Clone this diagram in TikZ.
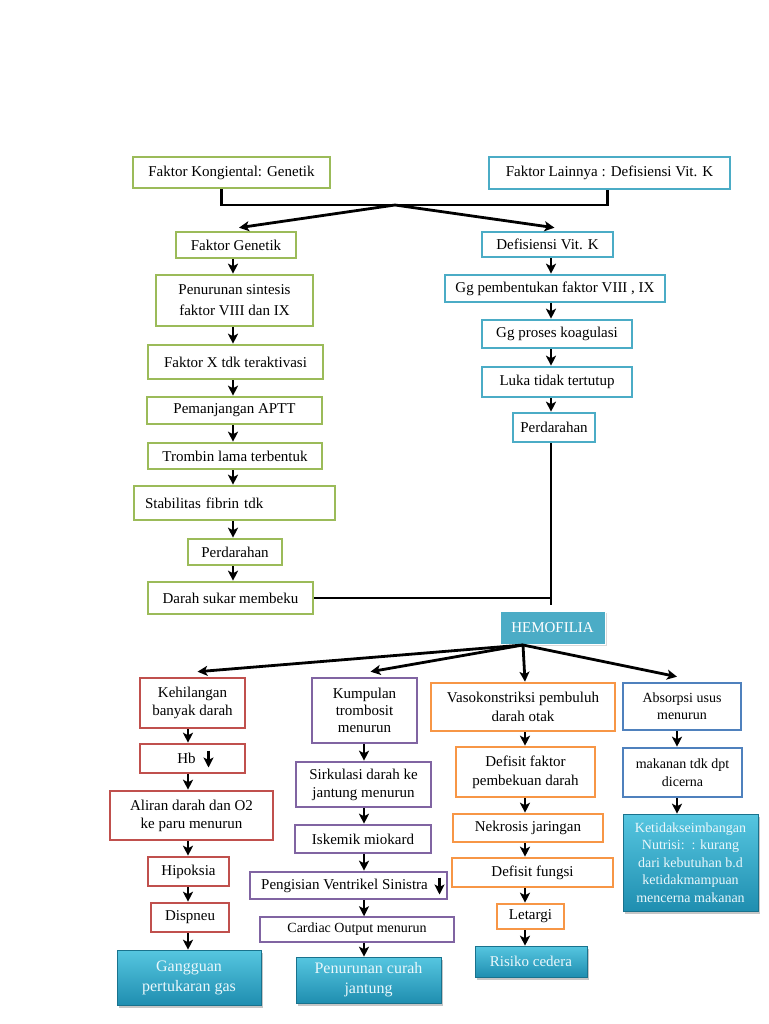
\documentclass[tikz,border=0pt]{standalone}
\usepackage{fontspec}
\setmainfont{Liberation Serif}
\usepackage{tikz}
\usetikzlibrary{arrows.meta,shadows}
\definecolor{grn}{HTML}{9BBB59}
\definecolor{aqua}{HTML}{4BACC6}
\definecolor{redb}{HTML}{C0504D}
\definecolor{purb}{HTML}{8064A2}
\definecolor{orgb}{HTML}{F79646}
\definecolor{blub}{HTML}{4F81BD}
\definecolor{aquatop}{HTML}{56C6E0}
\definecolor{aquabot}{HTML}{1F8EB0}
\definecolor{aquatxt}{HTML}{EAF7FB}

\begin{document}
\begin{tikzpicture}[x=1pt,y=-1pt,
    sz/.style 2 args={minimum width=#1, minimum height=#2},
    box/.style={draw, line width=2.6pt, fill=white, inner sep=1pt, align=center,
      font=\fontsize{15}{18}\selectfont},
    greenbox/.style={box, draw=grn},
    aquabox/.style={box, draw=aqua},
    redbox/.style={box, draw=redb},
    purplebox/.style={box, draw=purb},
    orangebox/.style={box, draw=orgb},
    bluebox/.style={box, draw=blub},
    hemobox/.style={box, draw=white, line width=1pt, fill=aqua, text=white,
      drop shadow={shadow xshift=1.5pt, shadow yshift=-1.5pt, opacity=0.3}},
    resultbox/.style={box, draw=aquabot!80!black, line width=0.6pt,
      top color=aquatop, bottom color=aquabot, text=aquatxt,
      drop shadow={shadow xshift=2pt, shadow yshift=-3pt, opacity=0.45}},
    arr/.style={-{Stealth[length=10pt,width=10pt,inset=2.5pt]}, line width=2.8pt},
    link/.style={line width=2.8pt}]
  \useasboundingbox (0,0) rectangle (768,1024);

  \node[greenbox, sz={197}{31}] (kong) at (231.5,172.5) {Faktor Kongiental: Genetik};
  \node[aquabox, sz={241}{32}] (lain) at (609.5,173) {Faktor Lainnya : Defisiensi Vit. K};

  \node[greenbox, sz={120}{26}] (gen) at (236,245) {Faktor Genetik};
  \node[greenbox, sz={157}{51}, font=\fontsize{15}{21}\selectfont] (pen) at (234.5,300.5) {Penurunan sintesis\\faktor VIII dan IX};
  \node[greenbox, sz={175}{34}] (fx) at (235.5,362) {Faktor X tdk teraktivasi};
  \node[greenbox, sz={175}{27}] (aptt) at (234.5,410.5) {Pemanjangan APTT};
  \node[greenbox, sz={174}{26}] (trom) at (235,456) {Trombin lama terbentuk};
  \node[greenbox, sz={201}{34}, align=left, text width=179pt] (stab) at (234.5,503) {Stabilitas fibrin tdk};
  \node[greenbox, sz={94}{26}] (perL) at (235,552) {Perdarahan};
  \node[greenbox, sz={165}{32}] (darah) at (230.5,598) {Darah sukar membeku};

  \node[aquabox, sz={131}{25}] (defk) at (547.5,244.5) {Defisiensi Vit. K};
  \node[aquabox, sz={220}{27}] (gg1) at (555,288.5) {Gg pembentukan faktor VIII , IX};
  \node[aquabox, sz={150}{28}] (gg2) at (557,334) {Gg proses koagulasi};
  \node[aquabox, sz={150}{30}] (luka) at (557,382) {Luka tidak tertutup};
  \node[aquabox, sz={82}{29}] (perR) at (554,427.5) {Perdarahan};

  \node[hemobox, sz={105}{33}] (hemo) at (552.5,627.5) {HEMOFILIA};

  \node[redbox, sz={105}{50}] (keh) at (192.5,703) {Kehilangan\\banyak darah};
  \node[redbox, sz={105}{29}] (hb) at (192.5,758.5) {Hb\hspace{12pt}};
  \node[redbox, sz={163}{49}] (alir) at (191.5,815.5) {Aliran darah dan O2\\ke paru menurun};
  \node[redbox, sz={81}{29}] (hip) at (188.5,871.5) {Hipoksia};
  \node[redbox, sz={78}{29}] (disp) at (190,917.5) {Dispneu};
  \node[resultbox, sz={144}{55}, font=\fontsize{16}{20}\selectfont] (gang) at (189,977.5) {Gangguan\\pertukaran gas};

  \node[purplebox, sz={105}{65}, font=\fontsize{15}{17}\selectfont] (kump) at (364.5,710.5) {Kumpulan\\trombosit\\menurun};
  \node[purplebox, sz={135}{45}] (sirk) at (363.5,784.5) {Sirkulasi darah ke\\jantung menurun};
  \node[purplebox, sz={136}{28}] (isk) at (363,839) {Iskemik miokard};
  \node[purplebox, sz={197}{27}] (peng) at (348.5,885.5) {Pengisian Ventrikel Sinistra\hspace{8pt}};
  \node[purplebox, sz={194}{25}, line width=1.5pt, font=\fontsize{14}{17}\selectfont] (card) at (357,929.5) {Cardiac Output menurun};
  \node[resultbox, sz={145}{46}, font=\fontsize{16}{20}\selectfont] (curah) at (368.5,980) {Penurunan curah\\jantung};

  \node[orangebox, sz={184}{48}, font=\fontsize{15}{19}\selectfont] (vaso) at (523,707) {Vasokonstriksi pembuluh\\darah otak};
  \node[orangebox, sz={139}{50}, font=\fontsize{15}{19}\selectfont] (deff) at (525.5,772) {Defisit faktor\\pembekuan darah};
  \node[orangebox, sz={150}{28}] (nekr) at (528,828) {Nekrosis jaringan};
  \node[orangebox, sz={161}{29}] (defu) at (532.5,872.5) {Defisit fungsi};
  \node[orangebox, sz={67}{25}] (letg) at (530.5,916.5) {Letargi};
  \node[resultbox, sz={112}{31}] (ris) at (531,961.5) {Risiko cedera};

  \node[bluebox, sz={118}{47}, font=\fontsize{14}{17}\selectfont] (abs) at (682,706.5) {Absorpsi usus\\menurun};
  \node[bluebox, sz={119}{49}, font=\fontsize{14}{18}\selectfont] (mak) at (682.5,772.5) {makanan tdk dpt\\dicerna};
  \node[resultbox, sz={135}{97}, font=\fontsize{14}{17.5}\selectfont] (ket) at (690.5,862.5) {Ketidakseimbangan\\Nutrisi:\ \ : kurang\\dari kebutuhan b.d\\ketidakmampuan\\mencerna makanan};

  \coordinate (cL) at (233,0);
  \coordinate (cR) at (551,0);
  \coordinate (c1) at (188,0);
  \coordinate (c2) at (364,0);
  \coordinate (c3) at (525,0);
  \coordinate (c4) at (677,0);
  \coordinate (jn) at (395,205);
  \coordinate (hj) at (551,605);
  \coordinate (fan) at (523,645);

  \draw[link] ([xshift=-10pt]kong.south) |- (jn) -| ([xshift=-2pt]lain.south);
  \draw[arr] (jn) -- ([xshift=3pt,yshift=3pt]gen.north);
  \draw[arr] (jn) -- ([xshift=7pt,yshift=3pt]defk.north);

  \draw[arr] (gen.south -| cL) -- (pen.north -| cL);
  \draw[arr] (pen.south -| cL) -- (fx.north -| cL);
  \draw[arr] (fx.south -| cL) -- (aptt.north -| cL);
  \draw[arr] (aptt.south -| cL) -- (trom.north -| cL);
  \draw[arr] (trom.south -| cL) -- (stab.north -| cL);
  \draw[arr] (stab.south -| cL) -- (perL.north -| cL);
  \draw[arr] (perL.south -| cL) -- (darah.north -| cL);

  \draw[arr] (defk.south -| cR) -- (gg1.north -| cR);
  \draw[arr] (gg1.south -| cR) -- (gg2.north -| cR);
  \draw[arr] (gg2.south -| cR) -- (luka.north -| cR);
  \draw[arr] (luka.south -| cR) -- (perR.north -| cR);

  \draw[link] (perR.south -| hj) -- (hj);
  \draw[link] (darah.east) -- (darah.east -| hj);

  \draw[arr] (fan) -- ([xshift=5pt,yshift=5pt]keh.north);
  \draw[arr] (fan) -- ([xshift=6pt,yshift=5pt]kump.north);
  \draw[arr] (fan) -- (vaso.north -| c3);
  \draw[arr] (fan) -- ([xshift=-5pt,yshift=5pt]abs.north);

  \draw[arr] (keh.south -| c1) -- (hb.north -| c1);
  \draw[arr] (hb.south -| c1) -- (alir.north -| c1);
  \draw[arr] (alir.south -| c1) -- (hip.north -| c1);
  \draw[arr] (hip.south -| c1) -- (disp.north -| c1);
  \draw[arr] (disp.south -| c1) -- (gang.north -| c1);
  \draw[arr, line width=2.4pt] ([xshift=16pt,yshift=8pt]hb.center) -- ([xshift=16pt,yshift=-9pt]hb.center);

  \draw[arr] (kump.south -| c2) -- (sirk.north -| c2);
  \draw[arr] (sirk.south -| c2) -- (isk.north -| c2);
  \draw[arr] (isk.south -| c2) -- (peng.north -| c2);
  \draw[arr] (peng.south -| c2) -- (card.north -| c2);
  \draw[arr] (card.south -| c2) -- (curah.north -| c2);
  \draw[arr, line width=2.4pt] ([xshift=91pt,yshift=8pt]peng.center) -- ([xshift=91pt,yshift=-9pt]peng.center);

  \draw[arr] (vaso.south -| c3) -- (deff.north -| c3);
  \draw[arr] (deff.south -| c3) -- (nekr.north -| c3);
  \draw[arr] (nekr.south -| c3) -- (defu.north -| c3);
  \draw[arr] (defu.south -| c3) -- (letg.north -| c3);
  \draw[arr] (letg.south -| c3) -- (ris.north -| c3);

  \draw[arr] (abs.south -| c4) -- (mak.north -| c4);
  \draw[arr] (mak.south -| c4) -- (ket.north -| c4);
\end{tikzpicture}
\end{document}
